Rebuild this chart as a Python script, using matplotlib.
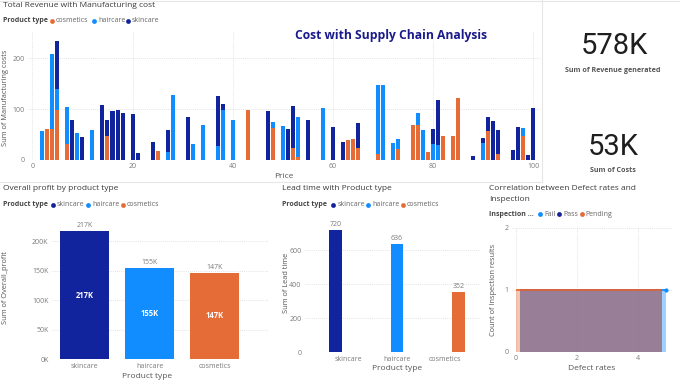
import matplotlib
matplotlib.use("Agg")
import matplotlib.pyplot as plt
import numpy as np

W, H = 680, 382
NAVY = '#12239E'
LBLUE = '#118DFF'
ORANGE = '#E66C37'
GRID = '#DADADA'
TICK = '#7A7A7A'

# ---------------- data ----------------
price = [2, 3, 4, 5, 7, 8, 9, 10, 12, 14, 15, 16, 17, 18, 20, 21, 24, 25, 27, 28,
         31, 32, 34, 37, 38, 40, 43, 47, 48, 50, 51, 52, 53, 55, 58, 60, 62, 63, 64, 65,
         69, 70, 72, 73, 76, 77, 78, 79, 80, 81, 82, 84, 85, 88, 90, 91, 92, 93, 96, 97,
         98, 99, 100]
cosmetics_cost = [0, 60, 60, 99, 31, 0, 0, 0, 0, 0, 47, 0, 0, 0, 0, 0, 0, 18, 0, 0,
                  0, 0, 0, 0, 0, 0, 99, 0, 63, 0, 0, 23, 5, 0, 0, 0, 0, 40, 42, 24,
                  12, 0, 0, 22, 69, 69, 0, 15, 0, 0, 48, 47, 121, 0, 0, 56, 0, 11, 0, 0,
                  47, 0, 0]
haircare_cost = [57, 0, 147, 41, 72, 0, 52, 0, 58, 0, 0, 0, 0, 0, 0, 0, 0, 0, 16, 128,
                 0, 31, 68, 28, 99, 78, 0, 0, 12, 67, 0, 0, 80, 0, 101, 0, 0, 0, 0, 0,
                 136, 147, 33, 20, 0, 24, 58, 0, 31, 29, 0, 0, 0, 0, 34, 0, 0, 0, 0, 0,
                 16, 0, 0]
skincare_cost = [0, 0, 0, 94, 0, 78, 0, 46, 0, 107, 32, 97, 98, 93, 91, 13, 35, 0, 42, 0,
                 84, 0, 0, 97, 10, 0, 0, 96, 0, 0, 61, 83, 0, 78, 0, 65, 35, 0, 0, 48,
                 0, 0, 0, 0, 0, 0, 0, 0, 30, 89, 0, 0, 0, 8, 10, 28, 77, 48, 20, 65,
                 0, 10, 102]

product_types = ['skincare', 'haircare', 'cosmetics']
profit = [217000, 155000, 147000]
profit_labels = ['217K', '155K', '147K']
lead_time = [720, 636, 352]

fail_rate, fail_count = [0.13, 4.93], [1, 1]
pass_rate, pass_count = [0.13, 4.80], [1, 1]
pending_rate, pending_count = [0.02, 4.80], [1, 1]

revenue_total = '578K'
costs_total = '53K'

# ---------------- style ----------------
plt.rcParams['font.family'] = ['Open Sans', 'DejaVu Sans']

fig = plt.figure(figsize=(6.8, 3.82), dpi=100)
fig.patch.set_facecolor('white')


def px(l, t, r, b):
    return [l / W, 1 - b / H, (r - l) / W, (b - t) / H]


def style(ax, xgrid=False):
    for s in ax.spines.values():
        s.set_visible(False)
    ax.tick_params(length=0, labelsize=5, labelcolor=TICK, pad=2.5)
    ax.grid(axis='y', color=GRID, linestyle=(0, (1, 1.5)), linewidth=0.6)
    if xgrid:
        ax.grid(axis='x', color=GRID, linestyle=(0, (1, 1.5)), linewidth=0.6)
    ax.set_axisbelow(True)
    ax.set_facecolor('none')


# ---- top chart ----
ax1 = fig.add_axes(px(28, 32, 540, 160))
cos = np.array(cosmetics_cost)
hair = np.array(haircare_cost)
skin = np.array(skincare_cost)
ax1.bar(price, cos, width=0.8, color=ORANGE)
ax1.bar(price, hair, width=0.8, bottom=cos, color=LBLUE)
ax1.bar(price, skin, width=0.8, bottom=cos + hair, color=NAVY)
ax1.set_xlim(-0.86, 101.3)
ax1.set_ylim(0, 251)
ax1.set_xticks([0, 20, 40, 60, 80, 100])
ax1.set_yticks([0, 100, 200])
style(ax1, xgrid=True)

# ---- overall profit ----
ax2 = fig.add_axes(px(52, 226.6, 268, 359.3))
xpos = np.arange(3)
cols = [NAVY, LBLUE, ORANGE]
ax2.bar(xpos, profit, width=0.75, color=cols)
ax2.set_xlim(-0.5, 2.82)
ax2.set_ylim(0, 225000)
ax2.set_yticks([0, 50000, 100000, 150000, 200000])
ax2.set_yticklabels(['0K', '50K', '100K', '150K', '200K'])
ax2.set_xticks(xpos)
ax2.set_xticklabels(product_types)
style(ax2)
for x, v, lab in zip(xpos, profit, profit_labels):
    ax2.text(x, v + 3500, lab, ha='center', va='bottom', fontsize=5, color=TICK)
    ax2.text(x, v / 2, lab, ha='center', va='center', fontsize=5.5, color='white',
             fontweight='bold')

# ---- lead time ----
ax3 = fig.add_axes(px(305, 219.7, 480, 352.3))
offs = [-0.27, 0.0, 0.27]
ax3.bar(xpos + np.array(offs), lead_time, width=0.26, color=cols)
ax3.set_xlim(-0.9, 2.72)
ax3.set_ylim(0, 780)
ax3.set_yticks([0, 200, 400, 600])
ax3.set_xticks(xpos)
ax3.set_xticklabels(product_types)
style(ax3)
for x, o, v in zip(xpos, offs, lead_time):
    ax3.text(x + o, v + 14, str(v), ha='center', va='bottom', fontsize=5, color=TICK)

# ---- defect rates ----
ax4 = fig.add_axes(px(512, 227.7, 672, 351.7))
for xr, yc, c in [(fail_rate, fail_count, LBLUE), (pass_rate, pass_count, NAVY),
                  (pending_rate, pending_count, ORANGE)]:
    ax4.fill_between(xr, yc, 0, color=c, alpha=0.4, linewidth=0)
    ax4.plot(xr, yc, color=c, linewidth=1.3, solid_capstyle='butt')
ax4.plot([fail_rate[-1]], [fail_count[-1]], 'o', color=LBLUE, markersize=2)
ax4.set_xlim(-0.12, 5.12)
ax4.set_ylim(0, 2)
ax4.set_xticks([0, 2, 4])
ax4.set_yticks([0, 1, 2])
style(ax4, xgrid=True)

# ---------------- overlay text ----------------
bg = fig.add_axes([0, 0, 1, 1])
bg.set_xlim(0, W)
bg.set_ylim(H, 0)
bg.axis('off')
bg.set_zorder(10)
bg.patch.set_alpha(0)

LINE = '#E6E6E6'
bg.plot([542, 542], [0, 182], color=LINE, lw=0.8)
bg.plot([0, 542], [182, 182], color=LINE, lw=0.8)
bg.plot([0, 680], [0.5, 0.5], color=LINE, lw=0.8)

TITLE = '#3A3A3A'
LAB = '#555555'


def title(x, y, s):
    bg.text(x, y, s, fontsize=6.0, color=TITLE, ha='left', va='center')


def legend(x, y, head, items):
    bg.text(x, y, head, fontsize=5.0, color='#444444', fontweight='bold', ha='left',
            va='center')
    for dx, lab, c in items:
        bg.scatter([dx], [y], s=12, color=c, linewidths=0)
        bg.text(dx + 4, y, lab, fontsize=5.0, color='#666666', ha='left', va='center')


title(3, 5.5, 'Total Revenue with Manufacturing cost')
legend(3, 21, 'Product type', [(52, 'cosmetics', ORANGE), (94, 'haircare', LBLUE),
                               (128, 'skincare', NAVY)])
bg.text(391, 35, 'Cost with Supply Chain Analysis', fontsize=8.7, color='#1A1A8C',
        fontweight='bold', ha='center', va='center')
bg.text(284, 176.5, 'Price', fontsize=6, color=LAB, ha='center', va='center')
bg.text(6, 98, 'Sum of Manufacturing costs', fontsize=5.3, color=LAB, ha='center',
        va='center', rotation=90)

bg.text(614.5, 46.5, revenue_total, fontsize=21, color='#1E1E1E', ha='center',
        va='center', family=['Roboto', 'DejaVu Sans'])
bg.text(613, 70, 'Sum of Revenue generated', fontsize=5.1, color='#555555',
        fontweight='bold', ha='center', va='center')
bg.text(613, 147, costs_total, fontsize=21, color='#1E1E1E', ha='center',
        va='center', family=['Roboto', 'DejaVu Sans'])
bg.text(613, 170.5, 'Sum of Costs', fontsize=5.1, color='#555555',
        fontweight='bold', ha='center', va='center')

title(3, 189, 'Overall profit by product type')
legend(3, 205, 'Product type', [(53, 'skincare', NAVY), (88, 'haircare', LBLUE),
                                (123, 'cosmetics', ORANGE)])
bg.text(6, 288, 'Sum of Overall_profit', fontsize=5.3, color=LAB, ha='center',
        va='center', rotation=90)
bg.text(147, 376, 'Product type', fontsize=6, color=LAB, ha='center', va='center')

title(282, 189, 'Lead time with Product type')
legend(282, 205, 'Product type', [(333.3, 'skincare', NAVY), (368, 'haircare', LBLUE),
                                  (402.7, 'cosmetics', ORANGE)])
bg.text(287, 283, 'Sum of Lead time', fontsize=5.3, color=LAB, ha='center',
        va='center', rotation=90)
bg.text(397, 368.3, 'Product type', fontsize=6, color=LAB, ha='center', va='center')

title(489, 189, 'Correlation between Defect rates and')
title(489, 199.5, 'Inspection')
legend(489, 214.3, 'Inspection ...', [(540, 'Fail', LBLUE), (559.3, 'Pass', NAVY),
                                      (581.7, 'Pending', ORANGE)])
bg.text(493.3, 290, 'Count of Inspection results', fontsize=5.3, color=LAB,
        ha='center', va='center', rotation=90)
bg.text(591.7, 368.3, 'Defect rates', fontsize=6, color=LAB, ha='center', va='center')

fig.savefig('out.png', dpi=100, facecolor='white')
